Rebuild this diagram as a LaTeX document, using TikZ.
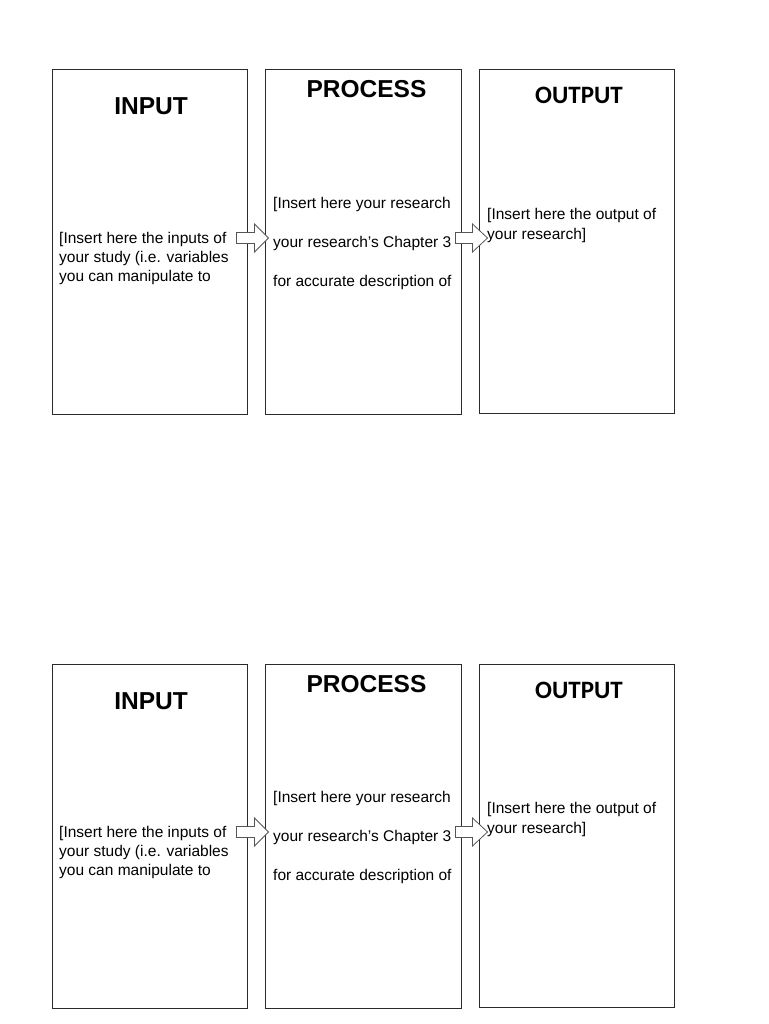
\documentclass[tikz,border=0pt]{standalone}
\usepackage{fontspec}
\setmainfont{Liberation Sans}
\newfontfamily\calibrifont{Carlito}
\usetikzlibrary{calc}
\definecolor{boxline}{HTML}{2A2A2A}
\definecolor{arrowline}{HTML}{555555}
\tikzset{
  ipobox/.style={draw=boxline, line width=1pt, minimum width=195pt, minimum height=344pt, inner sep=0pt},
  ipotitle/.style={anchor=base, inner sep=0pt, font=\bfseries\fontsize{24.5}{28}\selectfont},
  ipotext/.style={anchor=base west, inner sep=0pt, align=left},
  blockarrow/.style={draw=arrowline, fill=white, line width=0.8pt, line join=miter}
}
\begin{document}
\begin{tikzpicture}[x=1pt, y=-1pt]
  \useasboundingbox[fill=white] (0,0) rectangle (768,1024);
  \foreach \k/\dy in {a/0, b/594} {
    \node[ipobox] (in\k)  at  (149.5, 242+\dy){};
    \node[ipobox, minimum width=196pt] (pr\k)  at  (363, 242+\dy){};
    \node[ipobox, minimum height=343pt] (out\k)  at  (576.5, 241.5+\dy){};

    \node[ipotitle] (tin\k)  at  (151, 115+\dy){INPUT};
    \node[ipotitle] (tpr\k)  at  (366.5, 98+\dy){PROCESS};
    \node[ipotitle, font=\calibrifont\bfseries\fontsize{25}{28}\selectfont] (tout\k)  at  (579, 104+\dy){OUTPUT};

    % base anchor = baseline of the last line
    \node[ipotext, font=\fontsize{15.5}{19}\selectfont] (xin\k)  at  (59, 281.5+\dy)
      {[Insert here the inputs of\\your study (i.e. variables\\you can manipulate to};
    \node[ipotext, font=\fontsize{15.5}{39}\selectfont] (xpr\k)  at  (273, 286.5+\dy)
      {[Insert here your research\\your research’s Chapter 3\\for accurate description of};
    \node[ipotext, font=\fontsize{15.5}{20}\selectfont] (xout\k)  at  (487, 239.5+\dy)
      {[Insert here the output of\\your research]};

    % arrows between the boxes
    \draw[blockarrow] ($(in\k.east)+(-11,-9.5)$) -- ++(18,0) -- ++(0,-8.5) -- ++(14,14)
      -- ++(-14,14) -- ++(0,-8.5) -- ++(-18,0) -- cycle;
    \draw[blockarrow] ($(pr\k.east)+(-6,-9.5)$) -- ++(17,0) -- ++(0,-8.5) -- ++(15,14)
      -- ++(-15,14) -- ++(0,-8.5) -- ++(-17,0) -- cycle;
  }
\end{tikzpicture}
\end{document}
